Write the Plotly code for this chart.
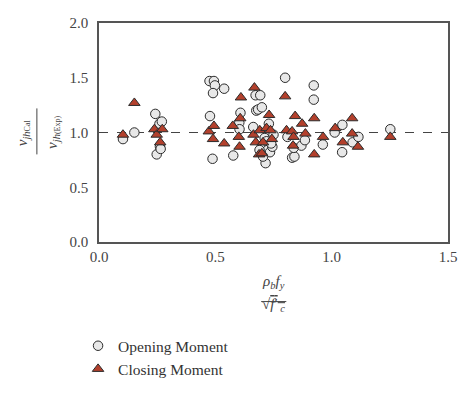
import plotly.graph_objects as go

# Opening moment (circles)
open_x = [0.103, 0.152, 0.242, 0.248, 0.260, 0.270, 0.262, 0.265,
          0.475, 0.494, 0.498, 0.490, 0.538, 0.477, 0.488, 0.577,
          0.608, 0.603, 0.604, 0.663, 0.673, 0.693, 0.676, 0.684, 0.700,
          0.716, 0.700, 0.712, 0.720, 0.725, 0.735, 0.745, 0.690, 0.730,
          0.750, 0.705, 0.740,
          0.800, 0.810, 0.830, 0.840, 0.837, 0.870, 0.885, 0.923, 0.923,
          0.962, 1.013, 1.046, 1.045, 1.090, 1.115, 1.252]
open_y = [0.94, 1.00, 1.17, 0.80, 1.08, 1.10, 0.87, 0.85,
          1.47, 1.47, 1.43, 1.36, 1.40, 1.15, 0.76, 0.79,
          1.18, 1.09, 1.03, 1.05, 1.34, 1.34, 1.20, 1.21, 1.23,
          0.72, 0.88, 0.95, 0.92, 0.84, 0.82, 0.87, 0.84, 1.08,
          0.98, 0.78, 0.90,
          1.50, 0.96, 0.77, 0.78, 0.86, 0.88, 0.93, 1.43, 1.30,
          0.89, 1.00, 1.07, 0.82, 0.91, 0.96, 1.03]

# Closing moment (triangles)
close_x = [0.103, 0.152, 0.238, 0.248, 0.263, 0.272,
           0.472, 0.494, 0.490, 0.538, 0.575, 0.610, 0.607, 0.601, 0.604,
           0.668, 0.664, 0.674, 0.691, 0.688, 0.700, 0.705, 0.720, 0.731,
           0.737, 0.743, 0.800, 0.806, 0.830, 0.843, 0.836, 0.834, 0.873,
           0.887, 0.925, 0.925, 0.963, 1.015, 1.048, 1.088, 1.088, 1.113, 1.252]
close_y = [0.98, 1.27, 1.03, 0.98, 0.91, 1.03,
           1.01, 1.06, 0.94, 0.90, 1.06, 1.32, 1.13, 0.96, 0.87,
           1.41, 0.98, 0.91, 1.02, 0.80, 0.81, 0.91, 1.04, 1.16,
           1.02, 0.94, 1.33, 1.02, 1.01, 1.15, 0.96, 0.88, 1.08,
           0.99, 1.13, 0.80, 0.96, 1.04, 0.91, 1.13, 0.99, 0.87, 0.96]

x_ticks = [0.0, 0.5, 1.0, 1.5]
y_ticks = [0.0, 0.5, 1.0, 1.5, 2.0]

FONT = "Liberation Serif"
fig = go.Figure()

fig.add_trace(go.Scatter(
    x=[0, 1.5], y=[1, 1], mode="lines", showlegend=False, hoverinfo="skip",
    line=dict(color="#444444", width=1.2, dash="dash")))

fig.add_trace(go.Scatter(
    x=open_x, y=open_y, mode="markers", name="Opening Moment",
    marker=dict(symbol="circle", size=9.5, color="#e8e8e8",
                line=dict(color="#2b2b2b", width=1))))

fig.add_trace(go.Scatter(
    x=close_x, y=close_y, mode="markers", name="Closing Moment",
    marker=dict(symbol="triangle-up", size=10, color="#b3402c",
                line=dict(color="#2b2b2b", width=1))))

axis_common = dict(showgrid=False, zeroline=False, showline=True, mirror=True,
                   linecolor="#555555", linewidth=1.5, ticks="",
                   tickfont=dict(family=FONT, size=15, color="#444444"))

fig.update_xaxes(range=[0, 1.5], tickvals=x_ticks,
                 ticktext=[f"{v:.1f}" for v in x_ticks], ticklabelstandoff=0,
                 **axis_common)
fig.update_yaxes(range=[0, 2.0], tickvals=y_ticks,
                 ticktext=[f"{v:.1f}" for v in y_ticks], ticklabelstandoff=6,
                 **axis_common)

ann_font = dict(family=FONT, size=15, color="#444444")
# x-axis title as fraction
fig.add_annotation(x=0.75, xref="x", y=-0.232, yref="paper", showarrow=False,
                   text="<i>ρ<sub>b</sub>f<sub>y</sub></i>", font=ann_font)
fig.add_annotation(x=0.75, xref="x", y=-0.34, yref="paper", showarrow=False,
                   text="√<span style='text-decoration:overline'><i>f</i>′<sub><i> c</i></sub></span>",
                   font=ann_font)
fig.add_shape(type="line", xref="x", yref="paper", x0=0.697, x1=0.805,
              y0=-0.272, y1=-0.272, line=dict(color="#444444", width=1))

# y-axis title as fraction (rotated)
fig.add_annotation(x=-0.25, xref="paper", y=1.0, yref="y", showarrow=False,
                   textangle=-90,
                   text="<i>v<sub>jh</sub></i><sub><span style='font-size:8px'>Cal</span></sub>",
                   font=ann_font)
fig.add_annotation(x=-0.165, xref="paper", y=1.0, yref="y", showarrow=False,
                   textangle=-90,
                   text="<i>v<sub>jh</sub></i><sub><span style='font-size:8px'>(Exp)</span></sub>",
                   font=ann_font)
fig.add_shape(type="line", xref="paper", yref="y", x0=-0.178, x1=-0.178,
              y0=0.8, y1=1.22, line=dict(color="#444444", width=1))

fig.update_layout(
    width=474, height=395,
    margin=dict(l=99, r=26, t=23, b=153, autoexpand=False),
    paper_bgcolor="white", plot_bgcolor="white",
    font=dict(family=FONT, size=15, color="#444444"),
    legend=dict(x=-0.06, y=-0.398, xanchor="left", yanchor="top",
                font=dict(family=FONT, size=15.5, color="#333333"),
                itemsizing="trace", tracegroupgap=0, itemwidth=30,
                bgcolor="rgba(0,0,0,0)"),
)

fig.write_html("out.html")
